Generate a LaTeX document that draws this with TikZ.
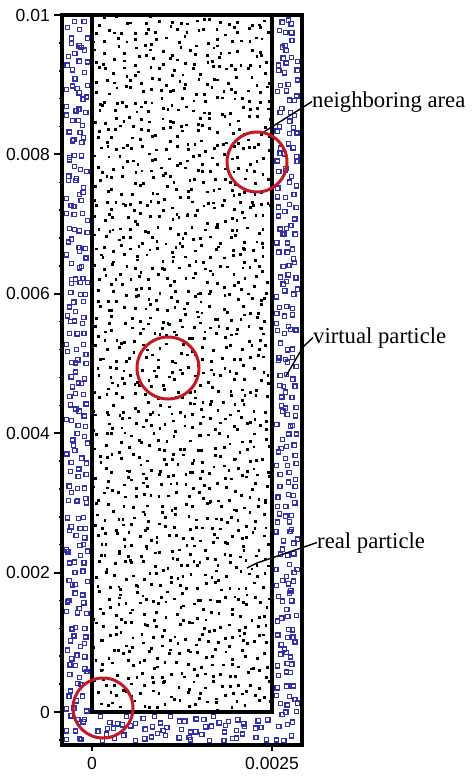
\documentclass[tikz,border=0pt]{standalone}
\usepackage{fontspec}
\setmainfont{Liberation Serif}
\newfontfamily\axisfont{Liberation Sans}
\definecolor{ringred}{RGB}{195,25,35}
\definecolor{virtblue}{RGB}{50,50,175}
\begin{document}
\begin{tikzpicture}[x=1pt,y=-1pt,
  frame/.style={line width=4pt},
  ring/.style={draw=ringred,line width=3pt,circle,inner sep=0pt,minimum size=#1},
  ring/.default=60pt,
  leader/.style={line width=1.4pt},
  majtick/.style={line width=2pt},
  mintick/.style={line width=1.5pt},
  ticklab/.style={font=\axisfont\fontsize{17.5}{20}\selectfont,inner sep=0pt},
  annot/.style={font=\fontsize{22.7}{26}\selectfont,inner sep=0pt,anchor=base west},
  realp/.style={fill=black},
  virtp/.style={draw=virtblue,line width=1.3pt}]
\useasboundingbox (0,0) rectangle (474,779);
\fill[white] (0,0) rectangle (474,779);
\pgfmathsetseed{11}
% real particles (jittered grid)
\foreach \c in {0,...,19}{
  \foreach \r in {0,...,69}{
    \pgfmathsetmacro\px{93.5+(\c+rnd)*8.85}
    \pgfmathsetmacro\py{16.5+(\r+rnd)*9.91}
    \fill[realp] ({\px-1.4},{\py-1.4}) rectangle ++(2.8,2.8);
  }
}
% virtual particles: left and right strips
\foreach \c in {0,...,2}{
  \foreach \r in {0,...,71}{
    \pgfmathsetmacro\px{66+(\c+rnd)*7.3}
    \pgfmathsetmacro\py{19+(\r+rnd)*10.03}
    \draw[virtp] ({\px-2.1},{\py-2.1}) rectangle ++(4.2,4.2);
    \pgfmathsetmacro\qx{276+(\c+rnd)*7.3}
    \pgfmathsetmacro\qy{19+(\r+rnd)*10.03}
    \draw[virtp] ({\qx-2.1},{\qy-2.1}) rectangle ++(4.2,4.2);
  }
}
% virtual particles: bottom strip
\foreach \c in {0,...,19}{
  \foreach \r in {0,...,2}{
    \pgfmathsetmacro\px{96+(\c+rnd)*8.6}
    \pgfmathsetmacro\py{716+(\r+rnd)*8.3}
    \draw[virtp] ({\px-2.1},{\py-2.1}) rectangle ++(4.2,4.2);
  }
}
% frames
\draw[frame] (62,15) rectangle (302,745);
\draw[frame] (92,15) -- (92,712) -- (272,712) -- (272,15);
% y ticks
\foreach \k in {-1,...,35}{
  \pgfmathsetmacro\ty{712-27.88*\k}
  \draw[mintick] (58.5,\ty) -- (62,\ty);
}
\foreach \k in {0,...,5}{
  \pgfmathsetmacro\ty{712-139.4*\k}
  \draw[majtick] (54,\ty) -- (62,\ty);
}
% x ticks
\draw[majtick] (92,745) -- (92,751);
\draw[majtick] (272,745) -- (272,751);
% tick labels
\node[ticklab,anchor=east] (y0) at (50,712) {0};
\node[ticklab,anchor=east] (y1) at (50,572.6) {0.002};
\node[ticklab,anchor=east] (y2) at (50,433.2) {0.004};
\node[ticklab,anchor=east] (y3) at (50,293.8) {0.006};
\node[ticklab,anchor=east] (y4) at (50,154.4) {0.008};
\node[ticklab,anchor=east] (y5) at (50,15) {0.01};
\node[ticklab,anchor=north] (x0) at (92,757) {0};
\node[ticklab,anchor=north] (x1) at (272,757) {0.0025};
% neighbouring-area circles
\node[ring] (n1) at (257,162) {};
\node[ring=62pt] (n2) at (168,368) {};
\node[ring] (n3) at (103,708) {};
% labels
\node[annot] (lab1) at (312,107) {neighboring area};
\node[annot] (lab2) at (313,343) {virtual particle};
\node[annot] (lab3) at (317,548) {real particle};
\coordinate (vp) at (286,376);
\coordinate (rp) at (247,568);
\draw[leader] (n1.76) -- (lab1.west);
\draw[leader] (vp) -- (303,347) -- (lab2.west);
\draw[leader] (rp) -- (257,563) -- (lab3.west);
\end{tikzpicture}
\end{document}
